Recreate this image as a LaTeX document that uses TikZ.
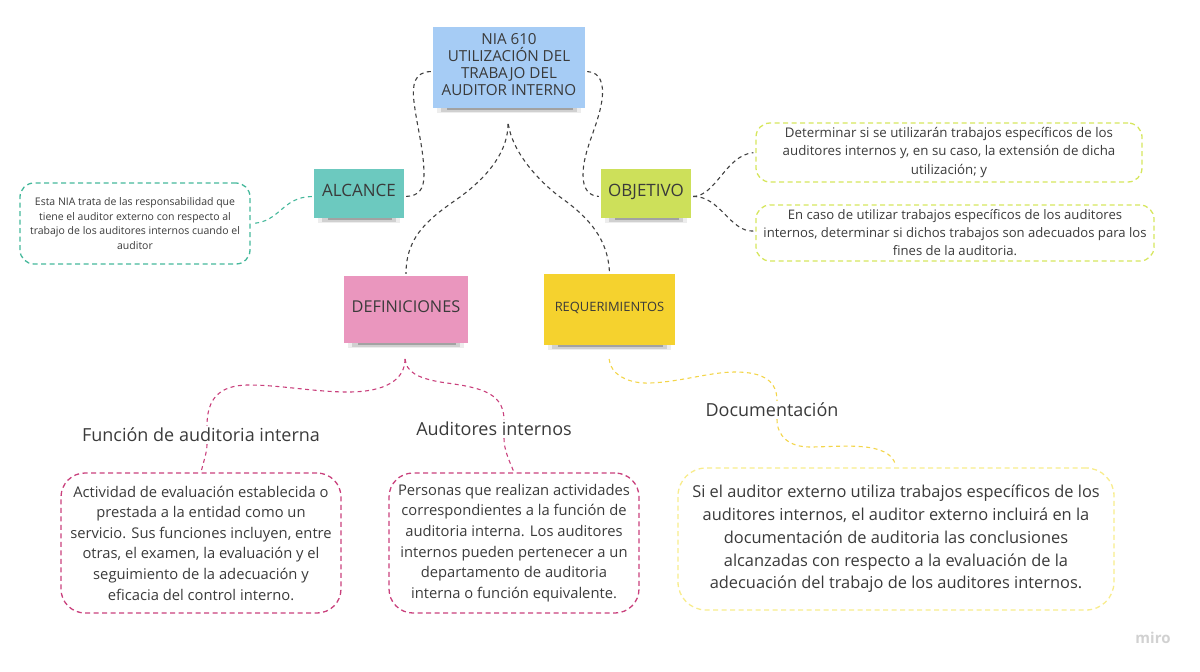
\documentclass[tikz,border=0pt]{standalone}
\usepackage{fontspec}
\setmainfont{Open Sans}
\definecolor{niablue}{HTML}{A6CCF5}
\definecolor{alcteal}{HTML}{6CC9BF}
\definecolor{objlime}{HTML}{CDE05A}
\definecolor{defpink}{HTML}{EA96BE}
\definecolor{reqyellow}{HTML}{F5D22E}
\definecolor{edgeteal}{HTML}{45B89B}
\definecolor{edgelime}{HTML}{D6E65E}
\definecolor{edgepink}{HTML}{C9407C}
\definecolor{edgeyellow}{HTML}{F8EC8C}
\definecolor{linkyellow}{HTML}{F3D54A}
\definecolor{inkgray}{HTML}{3A3A3A}
\tikzset{
    notebox/.style={fill=#1,inner sep=0pt,align=center,text=inkgray},
    textbox/.style={draw=#1,line width=1.3pt,dash pattern=on 5pt off 3.5pt,rounded corners=14pt,
        inner sep=0pt,align=center,text=inkgray},
    topiclabel/.style={inner sep=0pt,text=inkgray,font=\fontsize{18}{22}\selectfont},
    link/.style={draw=#1,line width=1.1pt,dash pattern=on 4pt off 3.5pt,shorten <=2pt,shorten >=2pt},
}
\begin{document}
\begin{tikzpicture}[x=1pt,y=-1pt]
    \useasboundingbox (0,0) rectangle (1200,672);
    \node[notebox=niablue,minimum width=152pt,minimum height=81pt,text depth=6pt,font=\fontsize{15.2}{16.8}\selectfont] (nia) at (509,67.5)
        {NIA 610\\UTILIZACIÓN DEL\\TRABAJO DEL\\AUDITOR INTERNO};
    \node[notebox=alcteal,minimum width=90pt,minimum height=49pt,text depth=7pt,font=\fontsize{17}{19}\selectfont] (alcance) at (359,193.5) {ALCANCE};
    \node[notebox=objlime,minimum width=90pt,minimum height=49pt,text depth=7pt,font=\fontsize{17}{19}\selectfont] (objetivo) at (646,193.5) {OBJETIVO};
    \node[notebox=defpink,minimum width=124pt,minimum height=67pt,text depth=5pt,font=\fontsize{16.3}{18}\selectfont] (definiciones) at (406,309.5) {DEFINICIONES};
    \node[notebox=reqyellow,minimum width=131pt,minimum height=71pt,text depth=5pt,font=\fontsize{12.9}{15}\selectfont] (requerimientos) at (609.5,309.5) {REQUERIMIENTOS};
    \foreach \notename in {nia,alcance,objetivo,definiciones,requerimientos} {
        \fill[black,opacity=.07] ([xshift=4pt]\notename.south west) rectangle ([xshift=-4pt,yshift=-5pt]\notename.south east);
        \fill[black,opacity=.12] ([xshift=8pt]\notename.south west) rectangle ([xshift=-8pt,yshift=-3.5pt]\notename.south east);
        \fill[black,opacity=.22] ([xshift=14pt]\notename.south west) rectangle ([xshift=-12pt,yshift=-2pt]\notename.south east);
    }

    \node[textbox=edgeteal,minimum width=230pt,minimum height=81pt,font=\fontsize{10.5}{14.6}\selectfont] (alcbox) at (135,223.5)
        {Esta NIA trata de las responsabilidad que\\tiene el auditor externo con respecto al\\trabajo de los auditores internos cuando el\\auditor};
    \node[textbox=edgelime,minimum width=386pt,minimum height=59pt,font=\fontsize{13.3}{18.6}\selectfont] (objboxa) at (949,152.5)
        {Determinar si se utilizarán trabajos específicos de los\\auditores internos y, en su caso, la extensión de dicha\\utilización; y};
    \node[textbox=edgelime,minimum width=398pt,minimum height=56pt,font=\fontsize{13.1}{18}\selectfont] (objboxb) at (955,233)
        {En caso de utilizar trabajos específicos de los auditores\\internos, determinar si dichos trabajos son adecuados para los\\fines de la auditoria.};

    \node[topiclabel] (funclabel) at (201,435) {Función de auditoria interna};
    \node[topiclabel] (audlabel) at (494,429) {Auditores internos};
    \node[topiclabel] (doclabel) at (772,410) {Documentación};

    \node[textbox=edgepink,rounded corners=24pt,minimum width=280pt,minimum height=140pt,font=\fontsize{14.75}{20.6}\selectfont] (funcbox) at (201,543)
        {Actividad de evaluación establecida o\\prestada a la entidad como un\\servicio. Sus funciones incluyen, entre\\otras, el examen, la evaluación y el\\seguimiento de la adecuación y\\eficacia del control interno.};
    \node[textbox=edgepink,rounded corners=24pt,minimum width=250pt,minimum height=140pt,font=\fontsize{14.75}{20.6}\selectfont] (audbox) at (514,543)
        {Personas que realizan actividades\\correspondientes a la función de\\auditoria interna. Los auditores\\internos pueden pertenecer a un\\departamento de auditoria\\interna o función equivalente.};
    \node[textbox=edgeyellow,rounded corners=28pt,minimum width=436pt,minimum height=142pt,font=\fontsize{16.4}{22.8}\selectfont] (docbox) at (896,539)
        {Si el auditor externo utiliza trabajos específicos de los\\auditores internos, el auditor externo incluirá en la\\documentación de auditoria las conclusiones\\alcanzadas con respecto a la evaluación de la\\adecuación del trabajo de los auditores internos.};

    \node[inner sep=0pt,text=black!18!white,font=\bfseries\fontsize{15}{17}\selectfont] (miro) at (1153,638) {miro};

    \coordinate (niatail) at (508,122);
    \coordinate (deftail) at (405,357);
    \coordinate (reqtail) at (609,357);
    \draw[link=black!75] ([yshift=-4pt]nia.west) .. controls (414,72) and (412,85) .. (414,102)
        .. controls (417,127) and (424,150) .. (424,175) .. controls (424,189) and (419,196) .. ([yshift=-3pt]alcance.east);
    \draw[link=black!75] ([yshift=-4pt]nia.east) .. controls (601,72) and (604,85) .. (602,100)
        .. controls (598,127) and (583,150) .. (583,175) .. controls (583,189) and (589,196) .. ([yshift=-3pt]objetivo.west);
    \draw[link=black!75] (niatail) .. controls (508,150) and (490,175) .. (460,197)
        .. controls (430,218) and (406,235) .. (definiciones.north);
    \draw[link=black!75] (niatail) .. controls (512,150) and (535,178) .. (560,197)
        .. controls (590,218) and (608,240) .. (requerimientos.north);
    \draw[link=black!75] ([yshift=-3pt]objetivo.east) .. controls (716,196) and (726,155) .. (objboxa.west);
    \draw[link=black!75] ([yshift=-3pt]objetivo.east) .. controls (720,196) and (730,232) .. ([yshift=2pt]objboxb.west);
    \draw[link=edgeteal] ([yshift=-3pt]alcance.west) .. controls (282,197) and (280,222) .. (alcbox.east);
    \draw[link=edgepink] (deftail) .. controls (405,380) and (385,392) .. (348,392)
        .. controls (315,392) and (280,385) .. (249,385) .. controls (218,385) and (207,400) .. ([xshift=6pt]funclabel.north);
    \draw[link=edgepink] ([xshift=6pt]funclabel.south) .. controls (207,452) and (204,460) .. (funcbox.north);
    \draw[link=edgepink] (deftail) .. controls (406,372) and (418,378) .. (440,382)
        .. controls (475,387) and (504,390) .. ([xshift=10pt]audlabel.north);
    \draw[link=edgepink] ([xshift=10pt]audlabel.south) .. controls (504,450) and (509,460) .. (audbox.north);
    \draw[link=linkyellow] (reqtail) .. controls (610,374) and (628,384) .. (650,383)
        .. controls (680,382) and (710,372) .. (735,372) .. controls (765,372) and (777,382) .. ([xshift=5pt]doclabel.north);
    \draw[link=linkyellow] ([xshift=5pt]doclabel.south) .. controls (777,437) and (790,447) .. (810,447)
        .. controls (840,447) and (890,440) .. (docbox.north);
\end{tikzpicture}
\end{document}
